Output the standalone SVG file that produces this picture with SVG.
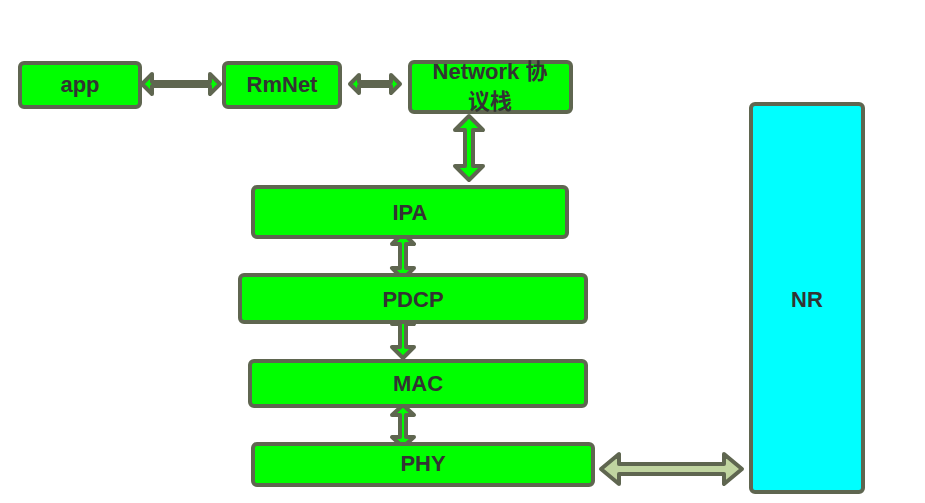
<svg xmlns="http://www.w3.org/2000/svg" width="925" height="503" viewBox="0 0 925 503">
<style>
.b{fill:#00ff00;stroke:#5f6650;stroke-width:4}
.t{font-family:"Liberation Sans","Noto Sans CJK SC",sans-serif;font-weight:bold;font-size:22px;fill:#333;text-anchor:middle}
.a{fill:#00ff00;stroke:#5f6650;stroke-width:4;stroke-linejoin:round}
</style>
<rect width="925" height="503" fill="#fff"/>
<g id="connectors">
<polygon class="a" points="142,84 152,74 152,82 210,82 210,74 220,84 210,94 210,86 152,86 152,94"/>
<polygon class="a" points="350,84 359,75 359,82 391,82 391,75 400,84 391,93 391,86 359,86 359,93"/>
<polygon class="a" points="469,116 483,130 473,130 473,166 483,166 469,180 455,166 465,166 465,130 455,130"/>
<polygon class="a" points="403,233 414,244 406,244 406,268 414,268 403,279 392,268 400,268 400,244 392,244"/>
<polygon class="a" points="403,313 414,324 406,324 406,347 414,347 403,358 392,347 400,347 400,324 392,324"/>
<polygon class="a" points="403,405 414,415 406,415 406,437 414,437 403,447 392,437 400,437 400,415 392,415"/>
<polygon points="601,469 619,454 619,464 724,464 724,454 742,469 724,484 724,474 619,474 619,484" fill="#c0d4a0" stroke="#5f6650" stroke-width="4" stroke-linejoin="round"/>
</g>
<g id="app"><rect class="b" x="20" y="63" width="120" height="44" rx="4"/><text class="t" x="80" y="92">app</text></g>
<g id="rmnet"><rect class="b" x="224" y="63" width="116" height="44" rx="4"/><text class="t" x="282" y="92">RmNet</text></g>
<g id="network"><rect class="b" x="410" y="62" width="161" height="50" rx="4"/><text class="t" x="490" y="79">Network 协</text><text class="t" x="490" y="109">议栈</text></g>
<g id="ipa"><rect class="b" x="253" y="187" width="314" height="50" rx="4"/><text class="t" x="410" y="220">IPA</text></g>
<g id="pdcp"><rect class="b" x="240" y="275" width="346" height="47" rx="4"/><text class="t" x="413" y="307">PDCP</text></g>
<g id="mac"><rect class="b" x="250" y="361" width="336" height="45" rx="4"/><text class="t" x="418" y="391">MAC</text></g>
<g id="phy"><rect class="b" x="253" y="444" width="340" height="41" rx="4"/><text class="t" x="423" y="471">PHY</text></g>
<g id="nr"><rect x="751" y="104" width="112" height="388" rx="4" fill="#00ffff" stroke="#5f6650" stroke-width="4"/><text class="t" x="807" y="307">NR</text></g>
</svg>
